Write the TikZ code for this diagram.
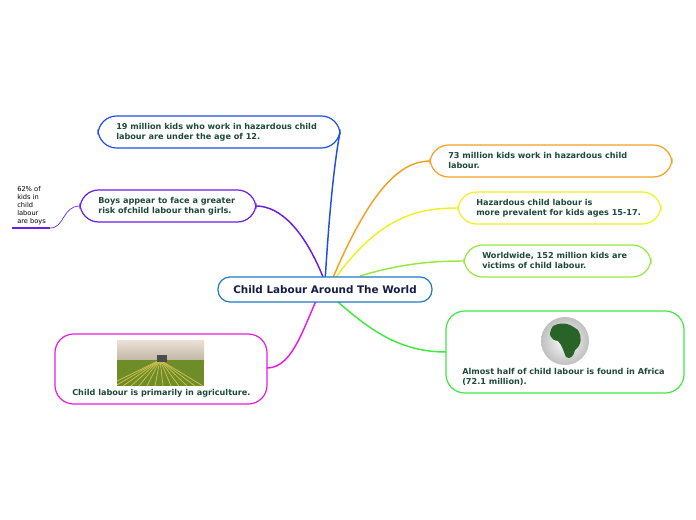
\documentclass[tikz,border=0pt]{standalone}
\usepackage{fontspec}
\setmainfont{DejaVu Sans}
\begin{document}
\begin{tikzpicture}[x=0.75pt,y=-0.75pt,
 box/.style={line width=0.9pt,rounded corners=14pt,fill=white},
 txt/.style={font=\bfseries\fontsize{6.1}{7.3}\selectfont,align=left,anchor=north west,inner sep=0pt},
 conn/.style={line width=1.1pt}]
\useasboundingbox (0,0) rectangle (696,520);
\definecolor{tcol}{HTML}{1E4A3A}
\definecolor{colb}{HTML}{1F4FE6}\definecolor{colp}{HTML}{6A1CE8}\definecolor{colm}{HTML}{E61CE6}
\definecolor{colo}{HTML}{F5A020}\definecolor{coly}{HTML}{F0F020}\definecolor{collg}{HTML}{96E840}\definecolor{colg}{HTML}{40E840}
\definecolor{colc}{HTML}{1E78C8}\definecolor{coltitle}{HTML}{141E46}
\definecolor{sky1}{HTML}{EBE1D7}\definecolor{sky2}{HTML}{BEB4A0}\definecolor{field}{HTML}{6E8C28}\definecolor{rows}{HTML}{C8BE50}
\definecolor{afr}{HTML}{286428}
\tikzset{txt/.append style={text=tcol}}
\coordinate (c) at (325,282);
% connectors
\draw[conn,colb] (c) .. controls (330,200) and (335,160) .. (340,132);
\draw[conn,colp] (c) .. controls (305,230) and (280,206) .. (256,206);
\draw[conn,colm] (c) .. controls (305,320) and (295,368) .. (267,368);
\draw[conn,colo] (332,280) .. controls (370,190) and (400,161) .. (430,161);
\draw[conn,coly] (334,280) .. controls (380,215) and (420,208) .. (458,208);
\draw[conn,collg] (360,276) .. controls (400,264) and (430,261) .. (464,261);
\draw[conn,colg] (338,302) .. controls (370,330) and (400,352) .. (446,352);
\draw[colp,line width=0.5pt] (50,228) .. controls (65,228) and (62,206) .. (80,206);
\draw[colp,line width=1.4pt] (12,228) -- (50,228);
% central
\draw[line width=0.9pt,draw=colc,fill=white,rounded corners=9pt] (218,277) rectangle (432,302);
\node[font=\bfseries\fontsize{7.8}{9}\selectfont,text=coltitle] (central) at (325,290) {Child Labour Around The World};
% boxes
\draw[box,draw=colb] (98,116) rectangle (340,148);
\node[txt] (n1) at (116,123) {19 million kids who work in hazardous child\\labour are under the age of 12.};
\draw[box,draw=colp] (80,190) rectangle (256,222);
\node[txt] (n2) at (98,197) {Boys appear to face a greater\\risk ofchild labour than girls.};
\node[font=\fontsize{5}{6}\selectfont,align=left,anchor=north west,inner sep=0pt] (n2a) at (17,186) {62\% of\\kids in\\child\\labour\\are boys};
\draw[box,draw=colm] (55,334) rectangle (267,404);
\begin{scope}
\clip (117,340) rectangle (204,386);
\shade[top color=sky1,bottom color=sky2] (117,340) rectangle (204,362);
\fill[field] (117,360) rectangle (204,386);
\foreach \i in {0,...,12}{\draw[rows,line width=0.6pt] (160,360) -- (117+\i*8-10,386);}
\fill[black!70] (157,355) rectangle (167,362);
\end{scope}
\node[txt] (n3) at (72,389) {Child labour is primarily in agriculture.};
\draw[box,draw=colo] (430,145) rectangle (672,177);
\node[txt] (n4) at (448,152) {73 million kids work in hazardous child\\labour.};
\draw[box,draw=coly] (458,192) rectangle (661,224);
\node[txt] (n5) at (476,199) {Hazardous child labour is\\more prevalent for kids ages 15-17.};
\draw[box,draw=collg] (464,245) rectangle (651,277);
\node[txt] (n6) at (482,252) {Worldwide, 152 million kids are\\victims of child labour.};
\draw[box,draw=colg] (446,311) rectangle (684,393);
\shade[inner color=white,outer color=black!25] (565,341) circle (24);
\fill[afr] (553,326) .. controls (565,320) and (572,326) .. (578,330) .. controls (582,336) and (582,345) .. (575,350) .. controls (574,356) and (570,360) .. (566,357) .. controls (563,350) and (562,345) .. (558,341) .. controls (551,340) and (547,335) .. cycle;
\node[txt] (n7) at (462,368) {Almost half of child labour is found in Africa\\(72.1 million).};
\end{tikzpicture}
\end{document}
